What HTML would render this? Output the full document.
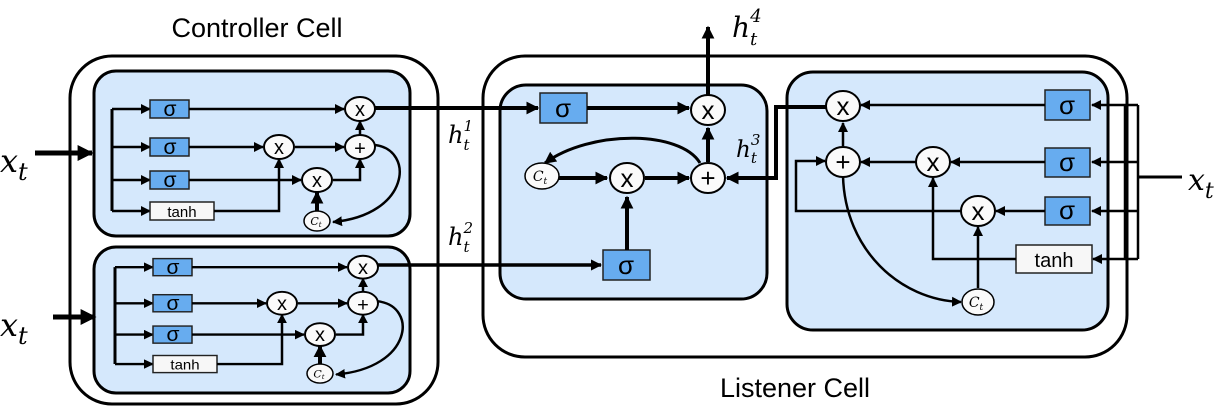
<!DOCTYPE html>
<html><head><meta charset="utf-8"><style>
html,body{margin:0;padding:0;background:#fff;}
svg{display:block;}
.t{font-family:"Liberation Sans",sans-serif;}
.m{font-family:"DejaVu Serif","Liberation Serif",serif;font-style:italic;}
</style></head><body>
<svg width="1220" height="419" viewBox="0 0 1220 419" xmlns="http://www.w3.org/2000/svg">
<defs>
<marker id="a" viewBox="0 0 10 10" refX="9" refY="5" markerWidth="4" markerHeight="4" orient="auto" markerUnits="strokeWidth"><path d="M0,0L10,5L0,10z" fill="#000"/></marker>
<marker id="b" viewBox="0 0 10 10" refX="9" refY="5" markerWidth="3.2" markerHeight="3.2" orient="auto" markerUnits="strokeWidth"><path d="M0,0L10,5L0,10z" fill="#000"/></marker>
<g id="cell">
  <path d="M112,109 V211" stroke="#000" stroke-width="3" fill="none"/>
  <path d="M112,109 H150" stroke="#000" stroke-width="2.5" marker-end="url(#a)"/>
  <path d="M112,147 H150" stroke="#000" stroke-width="2.5" marker-end="url(#a)"/>
  <path d="M112,180 H150" stroke="#000" stroke-width="2.5" marker-end="url(#a)"/>
  <path d="M112,211 H150" stroke="#000" stroke-width="2.5" marker-end="url(#a)"/>
  <rect x="150" y="100" width="39" height="18" fill="#67acef" stroke="#222" stroke-width="1.5"/>
  <rect x="150" y="138" width="39" height="18" fill="#67acef" stroke="#222" stroke-width="1.5"/>
  <rect x="150" y="171" width="39" height="18" fill="#67acef" stroke="#222" stroke-width="1.5"/>
  <rect x="150" y="202" width="64" height="18" fill="#f7f7f7" stroke="#222" stroke-width="1.5"/>
  <text class="t" x="170" y="116" font-size="21" text-anchor="middle">σ</text>
  <text class="t" x="170" y="154" font-size="21" text-anchor="middle">σ</text>
  <text class="t" x="170" y="187" font-size="21" text-anchor="middle">σ</text>
  <text class="t" x="182" y="217" font-size="15" text-anchor="middle">tanh</text>
  <path d="M189,109 H344" stroke="#000" stroke-width="2.5" marker-end="url(#a)"/>
  <path d="M189,147 H263" stroke="#000" stroke-width="2.5" marker-end="url(#a)"/>
  <path d="M189,180 H301" stroke="#000" stroke-width="2.5" marker-end="url(#a)"/>
  <path d="M214,211 H279 V159" stroke="#000" stroke-width="2.5" fill="none" marker-end="url(#a)"/>
  <path d="M295,147 H344" stroke="#000" stroke-width="2.5" marker-end="url(#a)"/>
  <path d="M333,180 H360 V159" stroke="#000" stroke-width="2.5" fill="none" marker-end="url(#a)"/>
  <path d="M360,135 V121" stroke="#000" stroke-width="2.5" marker-end="url(#a)"/>
  <path d="M317,211 V192" stroke="#000" stroke-width="4" marker-end="url(#b)"/>
  <path d="M375,145 C415,150 410,215 333,222" stroke="#000" stroke-width="2.5" fill="none" marker-end="url(#a)"/>
  <ellipse cx="360" cy="109" rx="15" ry="12" fill="#fafafa" stroke="#000" stroke-width="2"/>
  <ellipse cx="279" cy="147" rx="15" ry="12" fill="#fafafa" stroke="#000" stroke-width="2"/>
  <ellipse cx="360" cy="147" rx="15" ry="12" fill="#fafafa" stroke="#000" stroke-width="2"/>
  <ellipse cx="317" cy="180" rx="15" ry="12" fill="#fafafa" stroke="#000" stroke-width="2"/>
  <ellipse cx="317" cy="221" rx="13" ry="10" fill="#fafafa" stroke="#000" stroke-width="1.5"/>
  <text class="t" x="360" y="116" font-size="20" text-anchor="middle">x</text>
  <text class="t" x="279" y="154" font-size="20" text-anchor="middle">x</text>
  <text class="t" x="360" y="155" font-size="20" text-anchor="middle">+</text>
  <text class="t" x="317" y="187" font-size="20" text-anchor="middle">x</text>
  <text class="m" x="316" y="225" font-size="11" text-anchor="middle">C<tspan font-size="7" dy="2">t</tspan></text>
</g>
</defs>

<text class="t" x="257" y="37" font-size="27" text-anchor="middle">Controller Cell</text>
<text class="t" x="795" y="397" font-size="27" text-anchor="middle">Listener Cell</text>

<rect x="70" y="56" width="368" height="348" rx="42" fill="#fff" stroke="#000" stroke-width="3"/>
<rect x="94" y="71" width="316" height="165" rx="22" fill="#d5e8fc" stroke="#000" stroke-width="3"/>
<rect x="94" y="247" width="316" height="146" rx="22" fill="#d5e8fc" stroke="#000" stroke-width="3"/>

<rect x="483" y="56" width="644" height="301" rx="42" fill="#fff" stroke="#000" stroke-width="3"/>
<rect x="500" y="85" width="267" height="214" rx="26" fill="#d5e8fc" stroke="#000" stroke-width="3"/>
<rect x="787" y="72" width="321" height="258" rx="26" fill="#d5e8fc" stroke="#000" stroke-width="3"/>

<use href="#cell"/>
<g transform="translate(3,0)"><use href="#cell" transform="translate(0,156) scale(1,0.95) translate(0,8)"/></g>

<path d="M35,153 H92" stroke="#000" stroke-width="5" marker-end="url(#b)"/>
<path d="M53,317 H95" stroke="#000" stroke-width="5" marker-end="url(#b)"/>
<text class="m" x="0" y="172" font-size="32">x<tspan font-size="24" dy="8">t</tspan></text>
<text class="m" x="0" y="336" font-size="32">x<tspan font-size="24" dy="8">t</tspan></text>

<path d="M375,108 H538" stroke="#000" stroke-width="4" marker-end="url(#b)"/>
<path d="M378,265 H601" stroke="#000" stroke-width="3.5" marker-end="url(#b)"/>
<text class="m" x="448" y="143" font-size="24">h<tspan font-size="15" dy="7">t</tspan><tspan font-size="15" dx="-6" dy="-19">1</tspan></text>
<text class="m" x="448" y="245" font-size="24">h<tspan font-size="15" dy="7">t</tspan><tspan font-size="15" dx="-6" dy="-19">2</tspan></text>

<rect x="540" y="93" width="47" height="30" fill="#67acef" stroke="#222" stroke-width="1.5"/>
<text class="t" x="563" y="117" font-size="26" text-anchor="middle">σ</text>
<rect x="603" y="250" width="47" height="30" fill="#67acef" stroke="#222" stroke-width="1.5"/>
<text class="t" x="626" y="274" font-size="26" text-anchor="middle">σ</text>
<path d="M587,108 H689" stroke="#000" stroke-width="4" marker-end="url(#b)"/>
<path d="M559,178 H607" stroke="#000" stroke-width="4" marker-end="url(#b)"/>
<path d="M645,178 H689" stroke="#000" stroke-width="4" marker-end="url(#b)"/>
<path d="M627,250 V197" stroke="#000" stroke-width="4" marker-end="url(#b)"/>
<path d="M708,162 V128" stroke="#000" stroke-width="4" marker-end="url(#b)"/>
<path d="M708,96 V27" stroke="#000" stroke-width="4" marker-end="url(#b)"/>
<path d="M700,163 C680,130 590,130 545,163" stroke="#000" stroke-width="3" fill="none" marker-end="url(#a)"/>
<ellipse cx="708" cy="110" rx="17" ry="15" fill="#fafafa" stroke="#000" stroke-width="2"/>
<ellipse cx="708" cy="178" rx="17" ry="15" fill="#fafafa" stroke="#000" stroke-width="2"/>
<ellipse cx="627" cy="178" rx="17" ry="15" fill="#fafafa" stroke="#000" stroke-width="2"/>
<ellipse cx="542" cy="176" rx="17" ry="13" fill="#fafafa" stroke="#000" stroke-width="1.5"/>
<text class="t" x="708" y="119" font-size="26" text-anchor="middle">x</text>
<text class="t" x="708" y="187" font-size="26" text-anchor="middle">+</text>
<text class="t" x="627" y="187" font-size="26" text-anchor="middle">x</text>
<text class="m" x="540" y="181" font-size="14" text-anchor="middle">C<tspan font-size="9" dy="3">t</tspan></text>
<text class="m" x="732" y="37" font-size="28">h<tspan font-size="18" dy="8">t</tspan><tspan font-size="18" dx="-7" dy="-23">4</tspan></text>
<text class="m" x="736" y="157" font-size="23">h<tspan font-size="15" dy="6">t</tspan><tspan font-size="15" dx="-6" dy="-18">3</tspan></text>

<path d="M826,107 H776 V178 H727" stroke="#000" stroke-width="4" fill="none" marker-end="url(#b)"/>

<rect x="1045" y="90" width="45" height="30" fill="#67acef" stroke="#222" stroke-width="1.5"/>
<rect x="1045" y="148" width="45" height="29" fill="#67acef" stroke="#222" stroke-width="1.5"/>
<rect x="1045" y="197" width="45" height="28" fill="#67acef" stroke="#222" stroke-width="1.5"/>
<rect x="1016" y="245" width="76" height="28" fill="#f7f7f7" stroke="#222" stroke-width="1.5"/>
<text class="t" x="1067" y="114" font-size="26" text-anchor="middle">σ</text>
<text class="t" x="1067" y="171" font-size="26" text-anchor="middle">σ</text>
<text class="t" x="1067" y="219" font-size="26" text-anchor="middle">σ</text>
<text class="t" x="1054" y="267" font-size="20" text-anchor="middle">tanh</text>
<path d="M1182,177 H1138" stroke="#000" stroke-width="3"/>
<path d="M1138,105 V259" stroke="#000" stroke-width="2.5"/>
<path d="M1125,105 V259" stroke="#000" stroke-width="2.5"/>
<path d="M1138,105 H1092" stroke="#000" stroke-width="2.5" marker-end="url(#a)"/>
<path d="M1138,162 H1092" stroke="#000" stroke-width="2.5" marker-end="url(#a)"/>
<path d="M1138,211 H1092" stroke="#000" stroke-width="2.5" marker-end="url(#a)"/>
<path d="M1138,259 H1093" stroke="#000" stroke-width="2.5" marker-end="url(#a)"/>
<path d="M1045,105 H861" stroke="#000" stroke-width="2.5" marker-end="url(#a)"/>
<path d="M1045,162 H951" stroke="#000" stroke-width="2.5" marker-end="url(#a)"/>
<path d="M1045,211 H996" stroke="#000" stroke-width="2.5" marker-end="url(#a)"/>
<path d="M916,162 H861" stroke="#000" stroke-width="2.5" marker-end="url(#a)"/>
<path d="M843,146 V123" stroke="#000" stroke-width="2.5" marker-end="url(#a)"/>
<path d="M961,211 H796 V161 H825" stroke="#000" stroke-width="2.5" fill="none" marker-end="url(#a)"/>
<path d="M1016,259 H933 V178" stroke="#000" stroke-width="2.5" fill="none" marker-end="url(#a)"/>
<path d="M978,288 V227" stroke="#000" stroke-width="2.5" marker-end="url(#a)"/>
<path d="M843,176 C845,250 900,300 961,302" stroke="#000" stroke-width="2.5" fill="none" marker-end="url(#a)"/>
<ellipse cx="843" cy="106" rx="17" ry="15" fill="#fafafa" stroke="#000" stroke-width="2"/>
<ellipse cx="843" cy="162" rx="17" ry="15" fill="#fafafa" stroke="#000" stroke-width="2"/>
<ellipse cx="933" cy="162" rx="17" ry="15" fill="#fafafa" stroke="#000" stroke-width="2"/>
<ellipse cx="978" cy="211" rx="17" ry="15" fill="#fafafa" stroke="#000" stroke-width="2"/>
<ellipse cx="978" cy="302" rx="16" ry="13" fill="#fafafa" stroke="#000" stroke-width="1.5"/>
<text class="t" x="843" y="115" font-size="26" text-anchor="middle">x</text>
<text class="t" x="843" y="171" font-size="26" text-anchor="middle">+</text>
<text class="t" x="933" y="171" font-size="26" text-anchor="middle">x</text>
<text class="t" x="978" y="220" font-size="26" text-anchor="middle">x</text>
<text class="m" x="976" y="307" font-size="14" text-anchor="middle">C<tspan font-size="9" dy="3">t</tspan></text>
<text class="m" x="1188" y="190" font-size="30">x<tspan font-size="22" dy="8">t</tspan></text>
</svg>
</body></html>
